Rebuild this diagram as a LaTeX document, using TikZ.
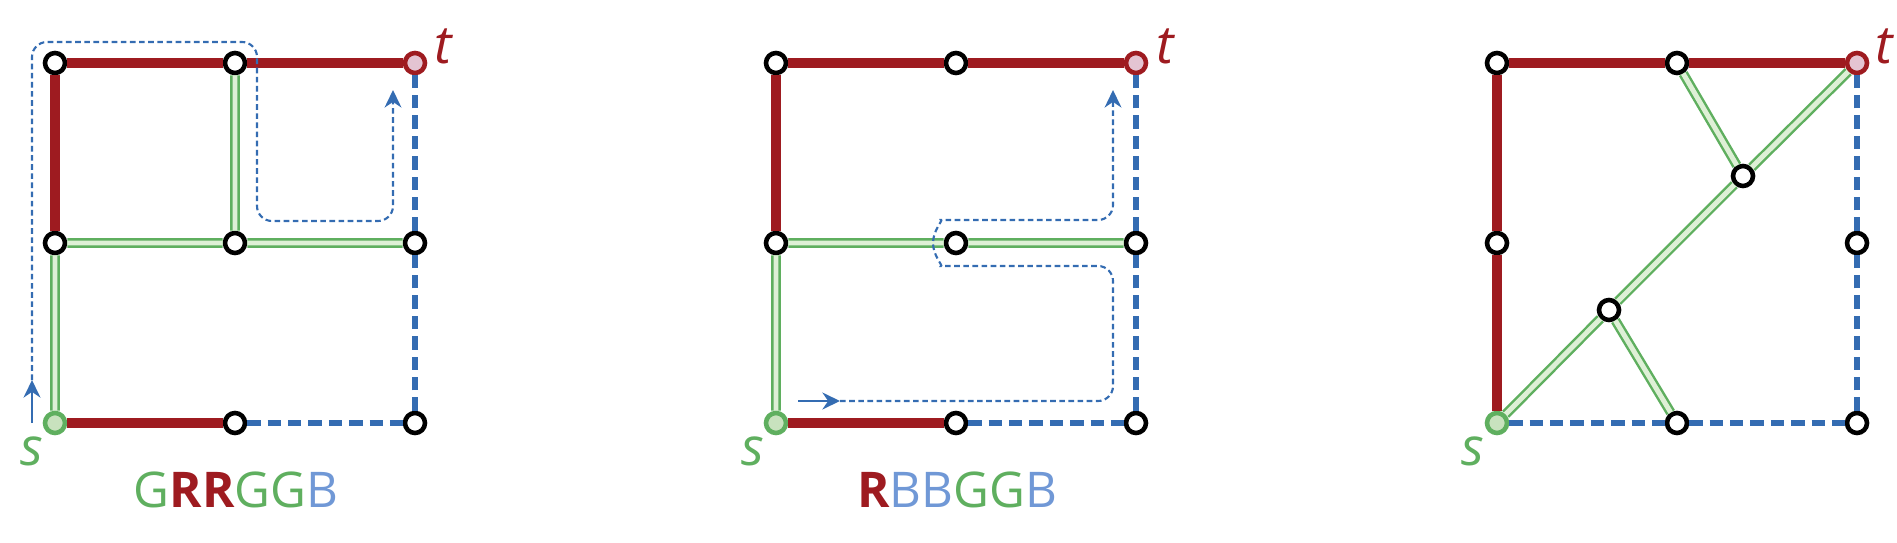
\documentclass[tikz,border=0pt]{standalone}
\usepackage{fontspec}
\setmainfont{Open Sans}
\usepackage{tikz}
\usetikzlibrary{arrows.meta}
\definecolor{cr}{RGB}{158,27,32}
\definecolor{cg}{RGB}{95,175,95}
\definecolor{cgl}{RGB}{222,240,214}
\definecolor{cb}{RGB}{52,108,178}
\definecolor{cbl}{RGB}{112,152,214}
\definecolor{sfill}{RGB}{200,226,190}
\definecolor{tfill}{RGB}{228,196,210}
\tikzstyle{n}=[draw,circle,fill=white,line width=1.3pt,inner sep=0,minimum size=0.2cm]
\tikzstyle{ns}=[n,draw=cg,fill=sfill]
\tikzstyle{nt}=[n,draw=cr,fill=tfill]
\tikzstyle{re}=[cr,line width=2.7pt]
\tikzstyle{ge}=[cg,line width=0.7pt,double=cgl,double distance=1.4pt]
\tikzstyle{be}=[cb,line width=1.5pt,dash pattern=on 3.8pt off 2pt]
\tikzstyle{rt}=[cb,line width=0.6pt,dash pattern=on 1.6pt off 1pt,rounded corners=0.15cm]
\tikzstyle{arr}=[-{Stealth[length=5pt,width=4.8pt]}]
\tikzstyle{lab}=[font=\fontsize{15}{15}\selectfont\itshape,inner sep=0,anchor=base]
\tikzstyle{code}=[font=\fontsize{14}{14}\selectfont,inner sep=0,anchor=base]

\begin{document}
\begin{tikzpicture}
	\useasboundingbox (0,0) rectangle (18.97,5.42);

                        % first square
                        \node[ns] (a00) at (0.55,1.19) {};
                        \node[n] (a10) at (2.35,1.19) {};
                        \node[n] (a20) at (4.15,1.19) {};
                        \node[n] (a01) at (0.55,2.99) {};
                        \node[n] (a11) at (2.35,2.99) {};
                        \node[n] (a21) at (4.15,2.99) {};
                        \node[n] (a02) at (0.55,4.79) {};
                        \node[n] (a12) at (2.35,4.79) {};
                        \node[nt] (a22) at (4.15,4.79) {};

                        % second square
                        \node[ns] (b00) at (7.76,1.19) {};
                        \node[n] (b10) at (9.56,1.19) {};
                        \node[n] (b20) at (11.36,1.19) {};
                        \node[n] (b01) at (7.76,2.99) {};
                        \node[n] (b11) at (9.56,2.99) {};
                        \node[n] (b21) at (11.36,2.99) {};
                        \node[n] (b02) at (7.76,4.79) {};
                        \node[n] (b12) at (9.56,4.79) {};
                        \node[nt] (b22) at (11.36,4.79) {};

                        % third square
                        \node[ns] (c00) at (14.97,1.19) {};
                        \node[n] (c10) at (16.77,1.19) {};
                        \node[n] (c20) at (18.57,1.19) {};
                        \node[n] (c01) at (14.97,2.99) {};
                        \node[n] (c21) at (18.57,2.99) {};
                        \node[n] (c02) at (14.97,4.79) {};
                        \node[n] (c12) at (16.77,4.79) {};
                        \node[nt] (c22) at (18.57,4.79) {};
                        \node[n] (cp) at (16.09,2.32) {};
                        \node[n] (cq) at (17.43,3.66) {};

                        \node[lab,cg] (s1) at (0.32,0.77) {s};
                        \node[lab,cr] (t1) at (4.43,4.79) {t};
                        \node[lab,cg] (s2) at (7.53,0.77) {s};
                        \node[lab,cr] (t2) at (11.65,4.79) {t};
                        \node[lab,cg] (s3) at (14.73,0.77) {s};
                        \node[lab,cr] (t3) at (18.84,4.79) {t};

                        \node[code] (w1) at (2.36,0.35)
                          {{\color{cg}G}{\bfseries\color{cr}RR}{\color{cg}GG}{\color{cbl}B}};
                        \node[code] (w2) at (9.57,0.35)
                          {{\bfseries\color{cr}R}{\color{cbl}BB}{\color{cg}GG}{\color{cbl}B}};

                        \draw[re]
                        (a00) -- (a10)
                        (a01) -- (a02)
                        (a02) -- (a12)
                        (a12) -- (a22)

                        (b00) -- (b10)
                        (b01) -- (b02)
                        (b02) -- (b12)
                        (b12) -- (b22)

                        (c00) -- (c01)
                        (c01) -- (c02)
                        (c02) -- (c12)
                        (c12) -- (c22)
                        ;

                        \draw[ge]
                        (a00) -- (a01)
                        (a01) -- (a11)
                        (a11) -- (a21)
                        (a11) -- (a12)

                        (b00) -- (b01)
                        (b01) -- (b11)
                        (b11) -- (b21)

                        (c00) -- (cp)
                        (cp) -- (cq)
                        (cq) -- (c22)
                        (c12) -- (cq)
                        (cp) -- (c10)
                        ;

                        \draw[be]
                        (a10) -- (a20)
                        (a20) -- (a21)
                        (a21) -- (a22)

                        (b10) -- (b20)
                        (b20) -- (b21)
                        (b21) -- (b22)

                        (c00) -- (c10)
                        (c10) -- (c20)
                        (c20) -- (c21)
                        (c21) -- (c22)
                        ;

                        % walks from s to t
                        \draw[cb,line width=0.8pt,arr] (0.32,1.19) -- (0.32,1.62);
                        \draw[rt,arr] (0.32,1.62) -- (0.32,5.00) -- (2.57,5.00)
                          -- (2.57,3.21) -- (3.93,3.21) -- (3.93,4.52);

                        \draw[cb,line width=0.8pt,arr] (7.98,1.41) -- (8.40,1.41);
                        \draw[rt,arr] (8.40,1.41) -- (11.13,1.41) -- (11.13,2.76) -- (9.56,2.76)
                          arc[start angle=-90,end angle=-270,radius=0.23]
                          -- (11.13,3.22) -- (11.13,4.52);

    \end{tikzpicture}
\end{document}
